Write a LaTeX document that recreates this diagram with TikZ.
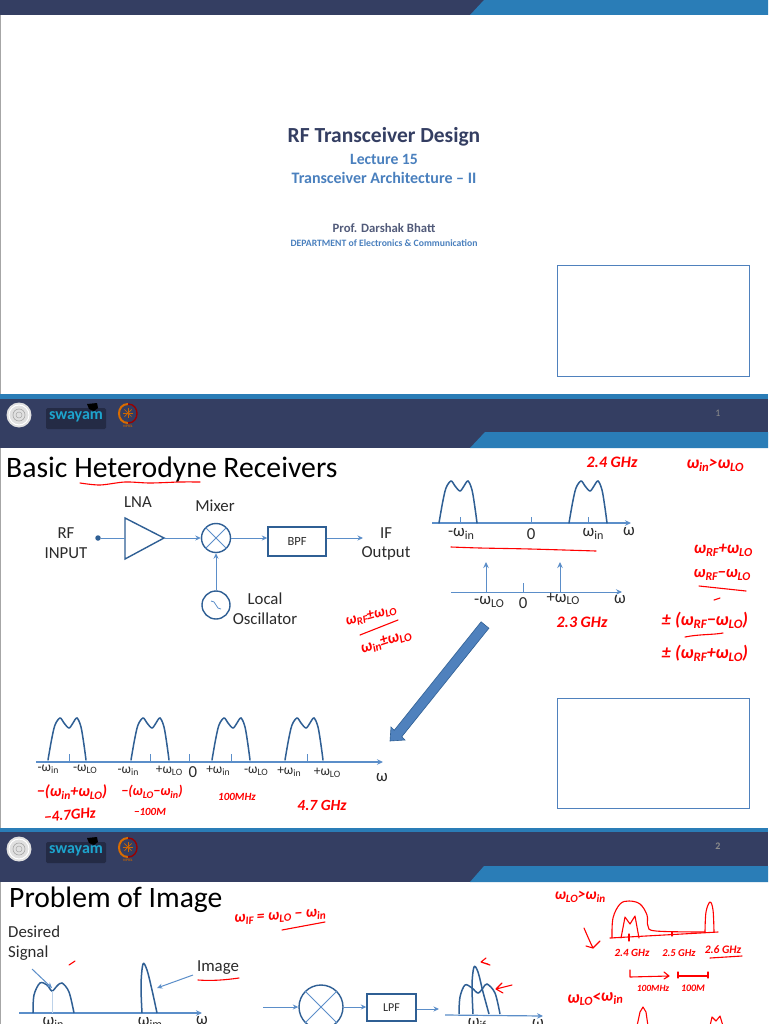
\documentclass[tikz,border=0pt]{standalone}
\usepackage{fontspec}
\setmainfont{Carlito}
\usetikzlibrary{arrows.meta,calc}
\definecolor{navy}{HTML}{343E62}
\definecolor{band}{HTML}{2A7DB7}
\definecolor{thinc}{HTML}{5B8EC9}
\definecolor{shapec}{HTML}{2F5F94}
\definecolor{boxc}{HTML}{4F81BD}
\definecolor{ink}{HTML}{2B2B2B}
\definecolor{subc}{HTML}{4A80BE}
\newcommand\sbs[1]{\raisebox{-.35ex}{\scalebox{.72}{#1}}}
\newcommand\fs[1]{\fontsize{#1}{#1}\selectfont}
\newcommand\wl{ω}
\newcommand\rf[1]{\fs{#1}\bfseries\itshape}
\tikzset{
  x=1pt,y=-1pt,
  lab/.style={text=ink,inner sep=0pt,align=center,font=\fs{16.8}},
  smalllab/.style={text=ink,inner sep=0pt,font=\fs{13.5}},
  sig/.style={draw=thinc,line width=1pt,-{Stealth[length=5.5pt,width=5pt]}},
  axisline/.style={draw=thinc,line width=1.2pt,-{Stealth[length=6pt,width=5.5pt]}},
  tickline/.style={draw=thinc,line width=.8pt},
  blockline/.style={draw=shapec,line width=1.4pt},
  crossline/.style={draw=thinc,line width=.8pt},
  redtxt/.style={text=red,inner sep=0pt},
  redline/.style={draw=red,line width=1.1pt,line cap=round,line join=round},
  frameline/.style={draw=boxc,line width=.7pt},
  hump/.pic={\draw[shapec,line width=1.5pt,line cap=round] plot[smooth,tension=.55] coordinates {(0,0)(3.5,-20)(7,-35)(12,-42)(16,-37)(21,-32)(25,-37)(29,-42)(33,-33)(36,-15)(38,0)};}
}
\newcommand\logos[1]{%
  \begin{scope}[shift={(0,#1)}]
    \fill[black!12] (19,0) circle (12.5);
    \draw[white,line width=1pt] (19,0) circle (10);
    \draw[black!35,line width=.6pt] (19,0) circle (6);
    \draw[black!35,line width=.5pt] (19,0) circle (3);
    \fill[navy!70!black,rounded corners=1.5pt] (46,-7) rectangle (106,14);
    \node[inner sep=0pt,text=band!70!cyan] at (76,2) {\fontsize{16}{16}\selectfont\bfseries swayam};
    \fill[black] (87,-11) -- (97,-12) -- (98,-7) -- (94,-4) -- (89,-6) -- cycle;
    \draw[orange!85!black,line width=2pt] (128,-11) .. controls (116,-11) and (116,8) .. (128,8);
    \draw[red!60!black,line width=1.4pt] (128,-11) .. controls (140,-11) and (140,8) .. (128,8);
    \foreach \a in {0,45,...,315}{\draw[orange!80!black,line width=.7pt] (128,-2) -- ++(\a:5);}
    \node[inner sep=0pt,text=orange!80!black,font=\fs{3.5}\bfseries] at (128,11) {NPTEL};
  \end{scope}}
\begin{document}
\begin{tikzpicture}
\useasboundingbox (0,0) rectangle (768,1024);
\clip (0,0) rectangle (768,1024);
\fill[white] (0,0) rectangle (768,1024);
% ---- bars
\fill[navy] (0,0) rectangle (768,15);
\fill[band] (470,15) -- (484,0) -- (768,0) -- (768,15) -- cycle;
\fill[band] (0,394) rectangle (768,399);
\fill[navy] (0,399) rectangle (768,448);
\fill[band] (470,448) -- (485,432) -- (768,432) -- (768,448) -- cycle;
\fill[band] (0,828) rectangle (768,832);
\fill[navy] (0,832) rectangle (768,882);
\fill[band] (470,882) -- (484,866) -- (768,866) -- (768,882) -- cycle;
\draw[black!35,line width=.8pt] (.4,15) -- (.4,394) (.4,448) -- (.4,828) (.4,882) -- (.4,1024);
\logos{415}
\logos{849}
\node[text=black!45,inner sep=0pt,font=\fs{10}] (pg1) at (718,413) {1};
\node[text=black!45,inner sep=0pt,font=\fs{10}\bfseries] (pg2) at (718,846) {2};
% ---- title slide
\node[inner sep=0pt,text=navy,font=\fs{21.5}\bfseries] (t1) at (384,137) {RF Transceiver Design};
\node[inner sep=0pt,text=subc,font=\fs{15.7}\bfseries] (t2) at (384,159) {Lecture 15};
\node[inner sep=0pt,text=subc,font=\fs{16}\bfseries] (t3) at (384,178) {Transceiver Architecture – II};
\node[inner sep=0pt,text=navy!85,font=\fs{12.7}\bfseries] (t4) at (384,228) {Prof. Darshak Bhatt};
\node[inner sep=0pt,text=subc,font=\fs{9.7}\bfseries] (t5) at (384,243) {DEPARTMENT of Electronics \& Communication};
\draw[frameline] (557,265) rectangle (749,376);
\draw[frameline] (557,698) rectangle (749,808);
% ---- slide 2: block diagram
\node[inner sep=0pt,text=black,anchor=west,font=\fs{29.7}] (h1) at (6,470) {Basic Heterodyne Receivers};
\draw[redline] plot[smooth] coordinates {(80,483)(100,485)(125,482)(150,483)(180,482)(200,482)};
\node[lab] (rf) at (66,543) {RF\\[3pt]INPUT};
\node[circle,fill=shapec,inner sep=0pt,minimum size=5.5pt] (dot) at (98,538) {};
\coordinate (lnaA) at (125,518); \coordinate (lnaB) at (125,559); \coordinate (lnaT) at (164,538);
\coordinate (lnaI) at (125,538);
\draw[blockline,line join=miter] (lnaA) -- (lnaT) -- (lnaB) -- cycle;
\node[lab] (lnal) at (138,502) {LNA};
\node[lab] (mixl) at (215,506) {Mixer};
\node[circle,draw=shapec,line width=1.4pt,minimum size=29pt,inner sep=0pt] (mix) at (216,538) {};
\draw[crossline] (mix.45) -- (mix.225) (mix.135) -- (mix.315);
\node[draw=shapec,line width=1.4pt,minimum width=58pt,minimum height=29pt,inner sep=0pt,font=\fs{12.5},text=ink] (bpf) at (297,541.5) {BPF};
\coordinate (ifend) at (363,538);
\node[lab] (ifl) at (386,544) {IF\\[3pt]Output};
\node[circle,draw=shapec,line width=1.4pt,minimum size=28pt,inner sep=0pt] (osc) at (216,605) {};
\draw[draw=thinc,line width=.8pt] (211,601) .. controls (216,600) and (216,610) .. (221,609);
\node[lab] (oscl) at (265,609) {Local\\[3pt]Oscillator};
\draw[draw=thinc,line width=1pt] (dot) -- (lnaI);
\draw[sig] (lnaT) -- (mix.west);
\draw[sig] (mix.east) -- (mix.east -| bpf.west);
\draw[sig] (mix.east -| bpf.east) -- (ifend);
\draw[sig] (osc.north) -- (mix.south);
% ---- spectra, right
\coordinate (a1) at (432,523); \coordinate (a2) at (631,523);
\draw[axisline] (a1) -- (a2);
\pic at (439,523) {hump};
\pic at (569,523) {hump};
\foreach \x in {460,531,588}{\draw[tickline] (\x,517) -- (\x,523);}
\node[lab] (l1) at (461,534) {-\wl\sbs{in}};
\node[lab] (l2) at (531,534) {0};
\node[lab] (l3) at (593,534) {\wl\sbs{in}};
\node[lab] (l4) at (629,532) {\wl};
\coordinate (b1) at (451,592); \coordinate (b2) at (622,592);
\draw[axisline,line width=1pt] (b1) -- (b2);
\draw[axisline,line width=1pt] (486,592) -- (486,562);
\draw[axisline,line width=1pt] (560,592) -- (560,562);
\draw[tickline] (523,583) -- (523,592);
\node[lab] (l5) at (489,602) {-\wl\sbs{LO}};
\node[lab] (l6) at (523,603) {0};
\node[lab] (l7) at (563,599) {+\wl\sbs{LO}};
\node[lab] (l8) at (620,600) {\wl};
% big arrow
\fill[boxc,draw=shapec,line width=.6pt,line join=miter] (488.9,628.2) -- (481.1,621.8) -- (394.2,730.3) -- (391,727) -- (390,741) -- (405,740) -- (401.8,736.7) -- cycle;
% ---- bottom spectrum
\coordinate (c1) at (36,762); \coordinate (c2) at (383,762);
\draw[axisline] (c1) -- (c2);
\foreach \x in {48,131,212,285}{\pic at (\x,760) {hump};}
\foreach \x in {69,150,189,231,307}{\draw[tickline] (\x,754) -- (\x,761);}
\node[smalllab] (m1) at (48,769) {-\wl\sbs{in}};
\node[smalllab] (m2) at (85,769) {-\wl\sbs{LO}};
\node[smalllab] (m3) at (128,771) {-\wl\sbs{in}};
\node[smalllab] (m4) at (169,771) {+\wl\sbs{LO}};
\node[lab] (m5) at (193,772) {0};
\node[smalllab] (m6) at (218,771) {+\wl\sbs{in}};
\node[smalllab] (m7) at (256,771) {-\wl\sbs{LO}};
\node[smalllab] (m8) at (289,772) {+\wl\sbs{in}};
\node[smalllab] (m9) at (327,773) {+\wl\sbs{LO}};
\node[lab] (m10) at (382,778) {\wl};
% ---- red notes slide 2
\node[redtxt,font=\rf{16}] (r1) at (612,462) {2.4 GHz};
\node[redtxt,font=\rf{17.5}] (r2) at (715,465) {\wl\sbs{in}>\wl\sbs{LO}};
\node[redtxt,font=\rf{17}] (r3) at (723,550) {\wl\sbs{RF}+\wl\sbs{LO}};
\node[redtxt,font=\rf{16.5}] (r4) at (722,575) {\wl\sbs{RF}−\wl\sbs{LO}};
\draw[redline] (699,586) -- (746,591);
\draw[redline] (714,600) -- (720,598);
\node[redtxt,font=\rf{18}] (r5) at (705,620) {± (\wl\sbs{RF}−\wl\sbs{LO})};
\draw[redline] (685,637) .. controls (700,634) and (712,635) .. (723,633);
\node[redtxt,font=\rf{18}] (r6) at (705,653) {± (\wl\sbs{RF}+\wl\sbs{LO})};
\node[redtxt,font=\rf{16}] (r7) at (582,622) {2.3 GHz};
\draw[redline] plot[smooth] coordinates {(451,547)(480,548)(530,549)(596,551)};
\node[redtxt,font=\rf{15},rotate=15] (r8) at (371,616) {\wl\sbs{RF}±\wl\sbs{LO}};
\draw[redline] (360,635) -- (398,620);
\node[redtxt,font=\rf{16},rotate=18] (r9) at (386,642) {\wl\sbs{in}±\wl\sbs{LO}};
\node[redtxt,font=\rf{16}] (r10) at (72,792) {−(\wl\sbs{in}+\wl\sbs{LO})};
\node[redtxt,font=\rf{15},rotate=5] (r11) at (70,815) {−4.7GHz};
\node[redtxt,font=\rf{14}] (r12) at (152,792) {−(\wl\sbs{LO}−\wl\sbs{in})};
\node[redtxt,font=\rf{11}] (r13) at (150,812) {−100M};
\node[redtxt,font=\rf{11}] (r14) at (237,797) {100MHz};
\node[redtxt,font=\rf{15.5}] (r15) at (322,805) {4.7 GHz};
% ---- slide 3
\node[inner sep=0pt,text=black,anchor=west,font=\fs{29.6}] (h2) at (9,900) {Problem of Image};
\node[lab,anchor=west,align=left] (ds) at (8,943) {Desired\\[3pt]Signal};
\node[lab] (imgl) at (218,968) {Image};
\draw[redline] (198,980) .. controls (212,981) and (225,980) .. (239,978);
\draw[redline] (69,965) -- (75,961);
\coordinate (d1) at (19,1013); \coordinate (d2) at (202,1013);
\draw[axisline] (d1) -- (d2);
\draw[shapec,line width=1.5pt] plot[smooth,tension=.55] coordinates {(33,1013)(34,995)(40,983)(47,985)(52,991)(57,986)(62,983)(69,992)(74,1013)};
\draw[thinc!40,line width=.8pt] (52,991) -- (52,1013);
\draw[shapec,line width=1.5pt] plot[smooth,tension=.55] coordinates {(142,1013)(141,985)(143,964)(147,970)(152,990)(157,1013)};
\coordinate (ar1) at (32,969); \coordinate (ar2) at (52,988);
\draw[sig] (ar1) -- (ar2);
\coordinate (ar3) at (193,975); \coordinate (ar4) at (157,988);
\draw[sig] (ar3) -- (ar4);
\node[lab] (w1) at (53,1023) {\wl\sbs{in}};
\node[lab] (w2) at (150,1023) {\wl\sbs{im}};
\node[lab] (w3) at (202,1021) {\wl};
\coordinate (in3) at (263,1007);
\node[circle,draw=shapec,line width=1.4pt,minimum size=44pt,inner sep=0pt] (mix2) at (321,1007) {};
\draw[crossline] (mix2.45) -- (mix2.225) (mix2.135) -- (mix2.315);
\node[draw=shapec,line width=1.4pt,minimum width=49pt,minimum height=27pt,inner sep=0pt,font=\fs{12},text=ink] (lpf) at (391.5,1007.5) {LPF};
\coordinate (out3) at (439,1009);
\draw[sig] (in3) -- (mix2.west);
\draw[sig] (mix2.east) -- (mix2.east -| lpf.west);
\draw[sig] (lpf.east |- out3) -- (out3);
\coordinate (e1) at (445,1015); \coordinate (e2) at (543,1016);
\draw[axisline] (e1) -- (e2);
\draw[shapec,line width=1.5pt] plot[smooth,tension=.55] coordinates {(459,1014)(460,997)(465,985)(472,988)(478,993)(483,988)(487,984)(495,993)(500,1014)};
\draw[shapec,line width=1.5pt] plot[smooth,tension=.55] coordinates {(473,1014)(472,985)(474,967)(478,972)(483,992)(489,1014)};
\node[lab] (w4) at (477,1024) {\wl\sbs{if}};
\node[lab] (w5) at (538,1024) {\wl};
% ---- red notes slide 3
\node[redtxt,font=\rf{15.5},rotate=4] (s1) at (280,917) {\wl\sbs{IF} = \wl\sbs{LO} − \wl\sbs{in}};
\draw[redline] (282,930) -- (325,922);
\node[redtxt,font=\rf{15.5}] (s2) at (580,897) {\wl\sbs{LO}>\wl\sbs{in}};
\draw[redline] (610,938) -- (718,932);
\draw[redline] plot[smooth,tension=.6] coordinates {(612,938)(613,918)(620,904)(629,901)(640,904)(647,915)(648,926)(656,931)(705,932)};
\draw[redline] (621,938) -- (625,917) -- (630,924) -- (635,916) -- (639,938);
\draw[redline] plot[smooth,tension=.6] coordinates {(705,932)(706,912)(710,902)(713,910)(714,932)};
\draw[redline] (629,934) -- (629,941) (672,932) -- (672,936);
\draw[redline] (584,928) .. controls (587,935) and (590,942) .. (593,948) (586,946) -- (593,948) -- (600,941);
\node[redtxt,font=\rf{11}] (s3) at (632,953) {2.4 GHz};
\node[redtxt,font=\rf{10.5}] (s4) at (679,953) {2.5 GHz};
\node[redtxt,font=\rf{11.5}] (s5) at (723,950) {2.6 GHz};
\draw[redline] (710,958) -- (742,956);
\draw[redline] (630,970) -- (630,977) -- (669,976) (669,976) -- (664,972) (669,976) -- (664,979);
\draw[redline] (678,972) -- (678,978) (678,976) -- (708,976) (708,972) -- (708,978);
\node[redtxt,font=\rf{9.5}] (s6) at (653,988) {100MHz};
\node[redtxt,font=\rf{10}] (s7) at (693,988) {100M};
\node[redtxt,font=\rf{17},rotate=3] (s8) at (595,999) {\wl\sbs{LO}<\wl\sbs{in}};
\draw[redline] (637,1026) -- (640,1012) -- (643,1007) -- (646,1012) -- (648,1026);
\draw[redline] (710,1026) -- (712,1017) -- (716,1021) -- (720,1016) -- (723,1026);
\draw[redline] (481,962) -- (488,964) (481,962) -- (486,958) (481,962) -- (490,965);
\draw[redline] (512,985) -- (496,989) (496,989) -- (502,983) (496,989) -- (503,993);
\end{tikzpicture}
\end{document}
